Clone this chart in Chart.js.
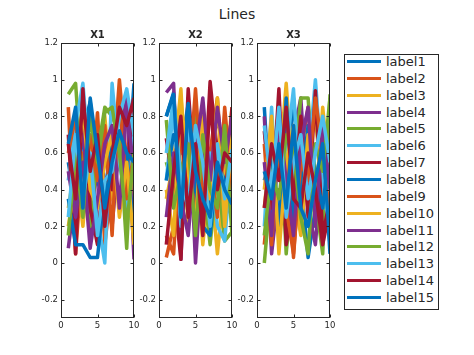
<!DOCTYPE html>
<html>
<head>
<meta charset="utf-8">
<script src="https://cdn.jsdelivr.net/npm/chart.js@4"></script>
<style>
  body { margin: 0; background: #fff; width: 474px; height: 355px; overflow: hidden; position: relative;
         font-family: "DejaVu Sans", sans-serif; color: #262626; }
  canvas { position: absolute; }
  #title { position: absolute; left: 0; top: 6px; width: 474px; text-align: center; font-size: 14px; }
  .sub { position: absolute; top: 29px; width: 73px; text-align: center; font-size: 10px; font-weight: bold; }
  #legend { position: absolute; left: 344px; top: 54px; width: 93px; height: 254px; border: 1px solid #262626; background: #fff; }
  .row { position: absolute; left: 2px; height: 16px; line-height: 16px; font-size: 13px; white-space: nowrap; }
  .row span { display: inline-block; width: 34px; height: 3px; vertical-align: middle; margin-right: 5px; margin-top: -2px; }
</style>
</head>
<body>
<div id="title">Lines</div>
<div id="legend"></div>
<script>
const xValues = [1, 2, 3, 4, 5, 6, 7, 8, 9, 10];
const xTicks = [0, 5, 10];
const yTicks = [-0.2, 0, 0.2, 0.4, 0.6, 0.8, 1, 1.2];
const panelTitles = ["X1", "X2", "X3"];
const seriesLabels = ["label1", "label2", "label3", "label4", "label5", "label6", "label7", "label8",
                      "label9", "label10", "label11", "label12", "label13", "label14", "label15"];
const colors = ["#0072BD", "#D95319", "#EDB120", "#7E2F8E", "#77AC30", "#4DBEEE", "#A2142F"];

const x1Data = [
  [0.55, 0.30, 0.72, 0.88, 0.45, 0.30, 0.62, 0.70, 0.40, 0.98],
  [0.85, 0.05, 0.60, 0.35, 0.82, 0.10, 0.45, 1.00, 0.55, 0.75],
  [0.30, 0.55, 0.20, 0.65, 0.50, 0.80, 0.35, 0.60, 0.25, 0.45],
  [0.08, 0.40, 0.75, 0.15, 0.55, 0.40, 0.20, 0.65, 0.90, 0.02],
  [0.92, 0.98, 0.40, 0.20, 0.60, 0.85, 0.80, 0.70, 0.08, 0.90],
  [0.45, 0.75, 0.98, 0.50, 0.25, 0.00, 0.98, 0.55, 0.30, 0.80],
  [0.70, 0.05, 0.95, 0.30, 0.10, 0.60, 0.40, 0.90, 0.50, 0.88],
  [0.35, 0.10, 0.10, 0.03, 0.03, 0.40, 0.65, 0.72, 0.60, 0.15],
  [0.60, 0.80, 0.30, 0.70, 0.45, 0.75, 0.15, 0.95, 0.35, 0.60],
  [0.20, 0.45, 0.85, 0.40, 0.30, 0.55, 0.70, 0.25, 0.55, 0.10],
  [0.50, 0.25, 0.55, 0.08, 0.35, 0.65, 0.75, 0.30, 0.85, 0.50],
  [0.15, 0.60, 0.25, 0.80, 0.55, 0.82, 0.85, 0.60, 0.20, 0.60],
  [0.25, 0.70, 0.35, 0.60, 0.15, 0.45, 0.50, 0.80, 0.95, 0.70],
  [0.65, 0.35, 0.90, 0.50, 0.70, 0.20, 0.60, 0.85, 0.75, 0.90],
  [0.65, 0.85, 0.30, 0.90, 0.60, 0.30, 0.55, 0.72, 0.60, 0.55]
];
const x2Data = [
  [0.80, 0.93, 0.30, 0.60, 0.35, 0.70, 0.25, 0.45, 0.55, 0.30],
  [0.03, 0.20, 0.45, 0.80, 0.30, 0.55, 0.60, 0.90, 0.35, 0.25],
  [0.35, 0.55, 0.95, 0.20, 0.70, 0.10, 0.50, 0.05, 0.45, 0.85],
  [0.93, 0.98, 0.02, 0.90, 0.00, 0.60, 0.80, 0.75, 0.70, 0.65],
  [0.55, 0.40, 0.75, 0.25, 0.85, 0.45, 0.10, 0.50, 0.12, 0.17],
  [0.45, 0.85, 0.20, 0.75, 0.50, 0.30, 0.60, 0.20, 0.12, 0.60],
  [0.68, 0.40, 0.02, 0.95, 0.40, 0.25, 0.99, 0.60, 0.30, 0.85],
  [0.45, 0.70, 0.60, 0.87, 0.40, 0.20, 0.15, 0.55, 0.45, 0.30],
  [0.15, 0.05, 0.70, 0.40, 0.95, 0.35, 0.55, 0.25, 0.85, 0.40],
  [0.40, 0.15, 0.90, 0.50, 0.20, 0.80, 0.35, 0.90, 0.20, 0.70],
  [0.25, 0.60, 0.35, 0.15, 0.60, 0.90, 0.45, 0.85, 0.55, 0.80],
  [0.78, 0.30, 0.50, 0.65, 0.15, 0.70, 0.40, 0.30, 0.75, 0.15],
  [0.60, 0.90, 0.45, 0.30, 0.75, 0.55, 0.20, 0.65, 0.35, 0.62],
  [0.10, 0.50, 0.80, 0.25, 0.65, 0.15, 0.90, 0.40, 0.60, 0.55],
  [0.80, 0.92, 0.25, 0.85, 0.50, 0.35, 0.25, 0.55, 0.40, 0.32]
];
const x3Data = [
  [0.85, 0.20, 0.60, 0.35, 0.90, 0.45, 0.03, 0.30, 0.70, 0.05],
  [0.10, 0.55, 0.25, 0.75, 0.03, 0.60, 0.85, 0.45, 0.20, 0.80],
  [0.30, 0.70, 0.50, 0.98, 0.40, 0.15, 0.60, 0.80, 0.35, 0.50],
  [0.80, 0.05, 0.40, 0.20, 0.70, 0.90, 0.30, 0.10, 0.60, 0.70],
  [0.00, 0.45, 0.85, 0.05, 0.50, 0.90, 0.90, 0.35, 0.05, 0.92],
  [0.20, 0.85, 0.15, 0.60, 0.95, 0.30, 0.55, 1.00, 0.45, 0.15],
  [0.72, 0.30, 0.95, 0.10, 0.35, 0.80, 0.25, 0.94, 0.15, 0.35],
  [0.45, 0.60, 0.20, 0.90, 0.25, 0.40, 0.75, 0.50, 0.30, 0.65],
  [0.65, 0.10, 0.70, 0.30, 0.05, 0.55, 0.45, 0.90, 0.60, 0.25],
  [0.40, 0.80, 0.05, 0.55, 0.75, 0.20, 0.70, 0.30, 0.85, 0.45],
  [0.55, 0.15, 0.80, 0.45, 0.15, 0.65, 0.85, 0.20, 0.75, 0.40],
  [0.15, 0.50, 0.35, 0.70, 0.60, 0.25, 0.05, 0.65, 0.50, 0.90],
  [0.75, 0.40, 0.85, 0.25, 0.55, 0.70, 0.35, 0.60, 0.80, 0.55],
  [0.30, 0.65, 0.45, 0.85, 0.35, 0.30, 0.60, 0.40, 0.10, 0.30],
  [0.50, 0.35, 0.65, 0.30, 0.75, 0.30, 0.20, 0.45, 0.65, 0.10]
];
const panelData = [x1Data, x2Data, x3Data];
const boxLefts = [61, 159, 257];

// axes box with small inward ticks, like matlab
const boxTicks = {
  id: "boxTicks",
  afterDraw(chart) {
    const { ctx, chartArea: a, scales: { x, y } } = chart;
    const l = a.left + 0.5, r = a.right - 0.5, t = a.top + 0.5, b = a.bottom - 0.5;
    ctx.save();
    ctx.strokeStyle = "#262626";
    ctx.lineWidth = 1;
    ctx.strokeRect(l, t, r - l, b - t);
    ctx.beginPath();
    xTicks.forEach(v => {
      const px = Math.round(x.getPixelForValue(v)) + 0.5;
      ctx.moveTo(px, b); ctx.lineTo(px, b - 3);
      ctx.moveTo(px, t); ctx.lineTo(px, t + 3);
    });
    yTicks.forEach(v => {
      const py = Math.round(y.getPixelForValue(v)) + 0.5;
      ctx.moveTo(l, py); ctx.lineTo(l + 3, py);
      ctx.moveTo(r, py); ctx.lineTo(r - 3, py);
    });
    ctx.stroke();
    ctx.restore();
  }
};

const tickFont = { family: "DejaVu Sans", size: 8.5 };

panelData.forEach((series, p) => {
  const canvas = document.createElement("canvas");
  canvas.width = 123;
  canvas.height = 306;
  canvas.style.left = (boxLefts[p] - 40) + "px";
  canvas.style.top = "30px";
  document.body.appendChild(canvas);

  const sub = document.createElement("div");
  sub.className = "sub";
  sub.style.left = boxLefts[p] + "px";
  sub.textContent = panelTitles[p];
  document.body.appendChild(sub);

  new Chart(canvas, {
    type: "line",
    data: {
      labels: xValues,
      datasets: series.map((vals, i) => ({
        label: seriesLabels[i],
        data: vals.map((v, k) => ({ x: xValues[k], y: v })),
        borderColor: colors[i % colors.length],
        borderWidth: 3.5,
        pointRadius: 0,
        tension: 0,
        fill: false,
        borderJoinStyle: "round",
        order: series.length - i
      }))
    },
    options: {
      responsive: false,
      animation: false,
      layout: { autoPadding: false, padding: { top: 13, right: 10, left: 0, bottom: 0 } },
      plugins: { legend: { display: false }, tooltip: { enabled: false } },
      scales: {
        x: {
          type: "linear", min: 0, max: 10,
          grid: { display: false, drawTicks: false },
          border: { display: false },
          afterBuildTicks: s => { s.ticks = xTicks.map(v => ({ value: v })); },
          afterFit: s => { s.height = 18; },
          ticks: { font: tickFont, color: "#262626", padding: 3, maxRotation: 0, autoSkip: false,
                   callback: v => String(v) }
        },
        y: {
          type: "linear", min: -0.3, max: 1.2,
          grid: { display: false, drawTicks: false },
          border: { display: false },
          afterBuildTicks: s => { s.ticks = yTicks.map(v => ({ value: v })); },
          afterFit: s => { s.width = 40; },
          ticks: { font: tickFont, color: "#262626", padding: 3, autoSkip: false,
                   callback: v => String(Math.round(v * 10) / 10) }
        }
      }
    },
    plugins: [boxTicks]
  });
});

// legend
const legend = document.getElementById("legend");
seriesLabels.forEach((name, i) => {
  const row = document.createElement("div");
  row.className = "row";
  row.style.top = (7 + 16.86 * i - 8) + "px";
  const sw = document.createElement("span");
  sw.style.background = colors[i % colors.length];
  row.appendChild(sw);
  row.appendChild(document.createTextNode(name));
  legend.appendChild(row);
});
</script>
</body>
</html>
